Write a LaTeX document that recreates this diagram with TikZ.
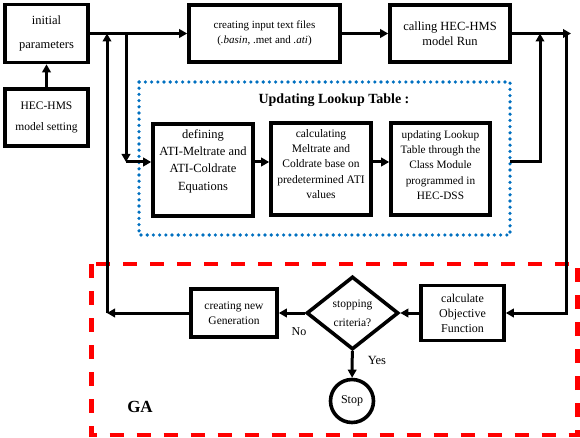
\documentclass[tikz,border=0pt]{standalone}
\usepackage{fontspec}
\setmainfont{Liberation Serif}
\usetikzlibrary{arrows.meta,shapes.geometric}
\definecolor{dssblue}{RGB}{0,112,192}

\tikzset{
  blk/.style={draw,line width=3.6pt,rectangle,align=center,inner sep=1pt},
  conn/.style={line width=3pt,-{Triangle[length=8pt,width=8.5pt]}},
  txt/.style={align=center,inner sep=0pt},
}

\begin{document}
\begin{tikzpicture}[line join=miter,x=1pt,y=-1pt]
\useasboundingbox (0,0) rectangle (580,438);
% frames
\draw[line width=3.6pt,color=dssblue,dash pattern=on 0pt off 6.2pt,line cap=round] (139,82) rectangle (510,235);
\draw[line width=4.6pt,red,dash pattern=on 14pt off 13pt] (91.5,264) rectangle (577.5,435);
% main chain
\node[blk,minimum width=83,minimum height=58,font=\fontsize{12.5}{24}\selectfont] (init) at (46.5,33.5) {initial\\parameters};
\node[blk,minimum width=83,minimum height=57,font=\fontsize{11.5}{21}\selectfont] (hec) at (46.5,117.5) {HEC-HMS\\model setting};
\node[blk,minimum width=151,minimum height=57,font=\fontsize{11}{15}\selectfont] (files) at (264.5,33.5) {creating input text files\\(\textit{.basin}, .met and \textit{.ati})};
\node[blk,minimum width=120,minimum height=57,font=\fontsize{12.5}{15}\selectfont] (run) at (450,33.5) {calling HEC-HMS\\model Run};
% lookup table
\node[font=\bfseries\fontsize{14}{16}\selectfont] (lookup) at (334,100) {Updating Lookup Table :};
\node[blk,minimum width=100,minimum height=92] (defin) at (203,170) {};
\node[txt,font=\fontsize{12.5}{17.3}\selectfont] (definTxt) at (203,161) {defining\\ATI-Meltrate and\\ATI-Coldrate\\Equations};
\node[blk,minimum width=100,minimum height=92] (calc) at (321,169) {};
\node[txt,font=\fontsize{11.5}{15.4}\selectfont] (calcTxt) at (321,164) {calculating\\Meltrate and\\Coldrate base on\\predetermined ATI\\values};
\node[blk,minimum width=99,minimum height=92] (upd) at (440.5,169) {};
\node[txt,font=\fontsize{11.3}{15.4}\selectfont] (updTxt) at (440.5,165) {updating Lookup\\Table through the\\Class Module\\programmed in\\HEC-DSS};
% GA
\node[blk,minimum width=83,minimum height=55,font=\fontsize{12}{15}\selectfont] (obj) at (462.5,313) {calculate\\Objective\\Function};
\node[draw,diamond,line width=3.6pt,minimum width=92,minimum height=73,aspect=1.25,inner sep=0pt,align=center,font=\fontsize{11.5}{19}\selectfont] (crit) at (352.5,313) {stopping\\criteria?};
\node[blk,minimum width=86,minimum height=48,font=\fontsize{11.5}{15}\selectfont] (gen) at (234,313) {creating new\\Generation};
\node[draw,circle,line width=3.6pt,minimum size=43,inner sep=0pt,font=\fontsize{12}{14}\selectfont] (stop) at (352,401) {Stop};
\node[font=\fontsize{12}{14}\selectfont] (no) at (299,332) {No};
\node[font=\fontsize{12.5}{14}\selectfont] (yes) at (377,360) {Yes};
\node[font=\bfseries\fontsize{17}{20}\selectfont] (ga) at (140,407) {GA};
% free ends
\coordinate (upL) at (107,33.5);
\coordinate (downL) at (126,33.5);
\coordinate (intoDef) at (126,162);
\coordinate (genL) at (107,313);
\coordinate (outR) at (571,33.5);
\coordinate (downR) at (566,33.5);
\coordinate (updOut) at (510,162);
\coordinate (upR) at (540,33.5);
% connectors
\draw[conn] (hec) -- (init);
\draw[conn] (init) -- (files);
\draw[conn] (files) -- (run);
\draw[conn] (run) -- (outR);
\draw[conn] (downR) |- (obj);
\draw[conn] (updOut) -| (upR);
\draw[conn] (gen) -- (genL);
\draw[conn] (genL) -- (upL);
\draw[conn] (downL) -- (intoDef);
\draw[conn] (intoDef) -- (intoDef -| defin.west);
\draw[conn] (defin.east |- intoDef) -- (calc.west |- intoDef);
\draw[conn] (calc.east |- intoDef) -- (upd.west |- intoDef);
\draw[conn] (obj) -- (crit);
\draw[conn] (crit) -- (gen);
\draw[conn] (crit) -- (stop);
\end{tikzpicture}
\end{document}
